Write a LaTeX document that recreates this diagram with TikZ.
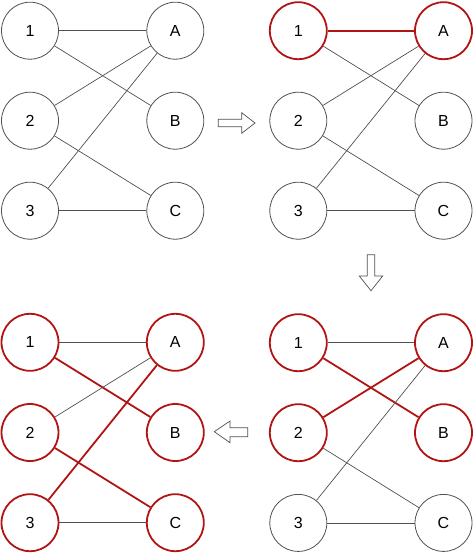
\documentclass[tikz,border=0pt]{standalone}
\usepackage{fontspec}
\setmainfont{Liberation Sans}
\definecolor{redc}{RGB}{178,20,20}
\definecolor{grayc}{RGB}{80,80,80}
\begin{document}
\begin{tikzpicture}[x=1pt,y=-1pt,
  vtx/.style={circle,draw=grayc,line width=0.8pt,minimum size=57pt,inner sep=0pt,font=\fontsize{16}{18}\selectfont},
  rvtx/.style={vtx,draw=redc,line width=1.8pt},
  edg/.style={draw=grayc,line width=0.7pt},
  redg/.style={draw=redc,line width=1.8pt},
  blockarrow/.style={draw=grayc,line width=0.7pt,fill=white,line join=miter}]
\useasboundingbox (0,0) rectangle (474,553);
% Panel 1 (top-left)
\begin{scope}[shift={(0,0)}]
\node[vtx] (p1n1) at (30,30.7) {1};
\node[vtx] (p1n2) at (30,120.7) {2};
\node[vtx] (p1n3) at (30,210.7) {3};
\node[vtx] (p1nA) at (175.3,30.7) {A};
\node[vtx] (p1nB) at (175.3,120.7) {B};
\node[vtx] (p1nC) at (175.3,210.7) {C};
\draw[edg] (p1n1) -- (p1nA);
\draw[edg] (p1n1) -- (p1nB);
\draw[edg] (p1n2) -- (p1nA);
\draw[edg] (p1n2) -- (p1nC);
\draw[edg] (p1n3) -- (p1nA);
\draw[edg] (p1n3) -- (p1nC);
\end{scope}
% Panel 2 (top-right)
\node[rvtx] (p2n1) at (298.3,30.7) {1};
\node[vtx] (p2n2) at (298.3,120.7) {2};
\node[vtx] (p2n3) at (298.3,210.7) {3};
\node[rvtx] (p2nA) at (443.5,30.7) {A};
\node[vtx] (p2nB) at (443.5,120.7) {B};
\node[vtx] (p2nC) at (443.5,210.7) {C};
\draw[redg] (p2n1) -- (p2nA);
\draw[edg] (p2n1) -- (p2nB);
\draw[edg] (p2n2) -- (p2nA);
\draw[edg] (p2n2) -- (p2nC);
\draw[edg] (p2n3) -- (p2nA);
\draw[edg] (p2n3) -- (p2nC);
% Panel 3 (bottom-right)
\node[rvtx] (p3n1) at (298.3,342.7) {1};
\node[rvtx] (p3n2) at (298.3,432.7) {2};
\node[vtx] (p3n3) at (298.3,522.9) {3};
\node[rvtx] (p3nA) at (443.5,342.7) {A};
\node[rvtx] (p3nB) at (443.5,432.7) {B};
\node[vtx] (p3nC) at (443.5,522.9) {C};
\draw[edg] (p3n1) -- (p3nA);
\draw[redg] (p3n1) -- (p3nB);
\draw[redg] (p3n2) -- (p3nA);
\draw[edg] (p3n2) -- (p3nC);
\draw[edg] (p3n3) -- (p3nA);
\draw[edg] (p3n3) -- (p3nC);
% Panel 4 (bottom-left)
\node[rvtx] (p4n1) at (30,342.3) {1};
\node[rvtx] (p4n2) at (30,432.5) {2};
\node[rvtx] (p4n3) at (30,522.7) {3};
\node[rvtx] (p4nA) at (175.3,342.3) {A};
\node[rvtx] (p4nB) at (175.3,432.5) {B};
\node[rvtx] (p4nC) at (175.3,522.7) {C};
\draw[edg] (p4n1) -- (p4nA);
\draw[redg] (p4n1) -- (p4nB);
\draw[edg] (p4n2) -- (p4nA);
\draw[redg] (p4n2) -- (p4nC);
\draw[redg] (p4n3) -- (p4nA);
\draw[edg] (p4n3) -- (p4nC);
% block arrows
\draw[blockarrow] (218.3,119.3) -- (241.7,119.3) -- (241.7,112.7) -- (255,123) -- (241.7,133.3) -- (241.7,126.7) -- (218.3,126.7) -- cycle;
\draw[blockarrow] (367.3,254.7) -- (374.7,254.7) -- (374.7,276) -- (382.7,276) -- (371,290.7) -- (359.3,276) -- (367.3,276) -- cycle;
\draw[blockarrow] (247.7,427.7) -- (230,427.7) -- (230,421) -- (214.3,431.7) -- (230,442.7) -- (230,436.7) -- (247.7,436.7) -- cycle;
\end{tikzpicture}
\end{document}
